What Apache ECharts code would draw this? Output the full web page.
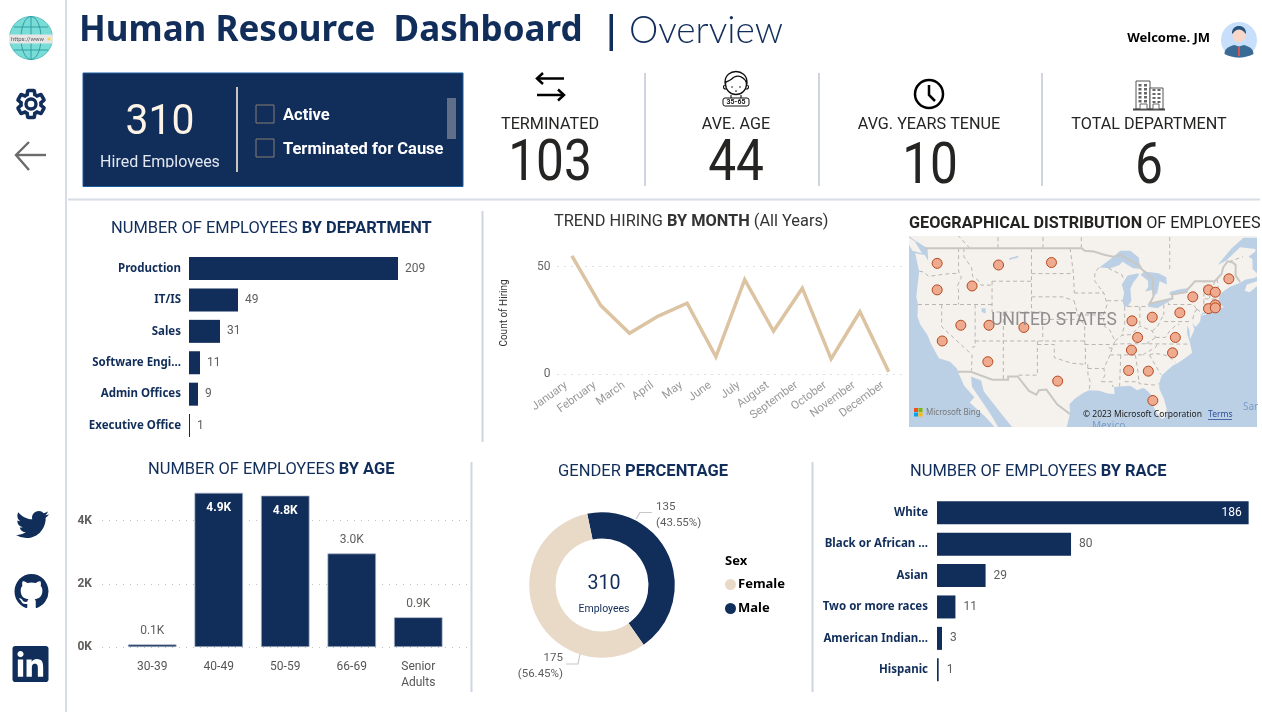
<!DOCTYPE html>
<html><head><meta charset="utf-8"><title>Human Resource Dashboard</title>
<style>html,body{margin:0;padding:0;background:#fff}#c{width:1262px;height:712px}</style>
<script src="https://cdn.jsdelivr.net/npm/echarts@6/dist/echarts.min.js"></script></head><body><div id="c"></div>
<script>
// ---------- data ----------
const deptNames=['Production','IT/IS','Sales','Software Engi...','Admin Offices','Executive Office'];
const deptValues=[209,49,31,11,9,1];
const months=['January','February','March','April','May','June','July','August','September','October','November','December'];
const hiring=[55,32,19,27,33,8,44,20,40,7,29,1];
const ageNames=['30-39','40-49','50-59','66-69','Senior\nAdults'];
const ageValues=[80,4880,4790,2960,940];
const genderNames=['Male','Female'];
const genderValues=[135,175];
const genderPct=['43.55%','56.45%'];
const raceNames=['White','Black or African ...','Asian','Two or more races','American Indian...','Hispanic'];
const raceValues=[186,80,29,11,3,1];
const kpiLabels=['TERMINATED','AVE. AGE','AVG. YEARS TENUE','TOTAL DEPARTMENT'];
const kpiValues=[103,44,10,6];
const totalHired=310;
const statusOptions=['Active','Terminated for Cause'];
const stateLocations=[[-120.8,47.2],[-109.9,47.0],[-100.5,47.3],[-120.8,43.9],[-114.6,44.4],[-116.6,39.2],[-111.6,39.2],[-105.4,38.9],[-119.9,37.0],[-111.8,34.0],[-99.4,31.1],[-86.2,39.8],[-82.6,40.3],[-77.7,40.9],[-75.4,43.0],[-72.6,43.9],[-71.4,43.6],[-69.0,45.3],[-71.4,41.95],[-72.6,41.45],[-71.4,41.55],[-85.2,37.5],[-78.5,37.5],[-86.3,35.7],[-79.0,35.3],[-86.8,32.7],[-83.3,32.6],[-82.5,28.1]];

// ---------- simplified base map outlines (lng, lat) ----------
const landOutline=[[-125.8,50.4],[-64,50.4],[-64,50.2],[-66.4,50.2],[-68.5,49],[-71,47],[-69.5,47.5],[-67,49.1],[-64.3,48.9],[-64.3,48.6],[-65.5,48],[-64.8,47.7],[-64.8,46.5],[-64,46],[-64,45.6],[-64.5,45.4],[-66,45.2],[-67,44.8],[-68.8,44.3],[-70.2,43.6],[-70.7,43],[-70.8,42.6],[-71,42.3],[-70.6,41.9],[-70,41.8],[-70,41.6],[-71.2,41.5],[-72.9,41.25],[-74,40.7],[-74,40.3],[-74.1,39.7],[-74.9,38.95],[-75.5,39.5],[-75.1,38.6],[-75.9,37.2],[-76,38.5],[-76.4,39.2],[-76.4,38],[-76,37],[-75.5,35.3],[-76.5,34.7],[-77.9,33.9],[-79,33.4],[-80.9,32],[-81.4,30.7],[-81.3,29.8],[-80.5,28.3],[-80.05,26.8],[-80.2,25.5],[-80.9,25.15],[-81.8,26.1],[-82.7,27.7],[-82.8,29],[-83.8,29.9],[-84.3,30.05],[-85.3,29.7],[-86.5,30.4],[-88,30.3],[-89.4,30.2],[-89.3,29.1],[-90.5,29.2],[-92,29.6],[-93.8,29.7],[-94.8,29.3],[-96.3,28.4],[-97.3,27.5],[-97.2,26],[-97.8,23.87],[-107.5,23.87],[-109.4,26],[-112.5,29.5],[-113,31.2],[-114.8,31.8],[-114.6,30.2],[-112.8,27.9],[-111,25.5],[-110,23.87],[-110.6,23.87],[-112.2,25.5],[-115,27.8],[-114.2,28.6],[-116,30.4],[-117.1,32.5],[-117.3,33],[-118.5,34],[-120.5,34.5],[-121.9,36.6],[-122.5,37.8],[-123.8,39.3],[-124.3,40.4],[-124.2,42],[-124.5,43],[-124,46.2],[-124.7,48.4],[-123,48.2],[-122.4,47.5],[-122.5,49],[-123.3,49.3],[-125,50],[-125.8,50.4]];
const extraLand=[[[-64,45],[-65.8,44.6],[-66.2,43.8],[-65.3,43.6],[-64,44.4],[-64,45]],[[-123.5,48.4],[-125.2,48.7],[-125.8,49.4],[-125.8,50.2],[-124.8,49.8],[-123.5,48.4]],[[-74,40.6],[-72,41.1],[-72.5,40.8],[-74,40.5],[-74,40.6]]];
const lakes=[[[-92,46.7],[-90,46.6],[-88.4,47],[-87.9,47.4],[-86,46.6],[-84.7,46.5],[-85,47.9],[-86.5,48.7],[-88.3,48.7],[-89.5,48],[-92,46.7]],
[[-87.6,41.7],[-87,41.7],[-86.3,42.5],[-86.5,44],[-86,44.8],[-85,45.7],[-85,46],[-87,45.7],[-88,44.6],[-87.6,43.5],[-87.9,42.5],[-87.6,41.7]],
[[-84.7,45.8],[-83.4,45.1],[-83.3,44.3],[-83.9,43.7],[-82.6,43.9],[-82.4,43],[-81.7,43.5],[-81.3,45],[-80,44.6],[-80.1,45.5],[-81.5,46],[-84,46.2],[-84.7,45.8]],
[[-83.4,41.7],[-81.7,41.5],[-79,42.7],[-79,42.9],[-80.5,42.6],[-82.5,42.1],[-83.1,42.1],[-83.4,41.7]],
[[-79.7,43.3],[-79,43.3],[-76.3,43.5],[-76.3,44.1],[-77.5,44],[-79.3,43.7],[-79.7,43.3]],
[[-112.9,41.5],[-112.2,41.5],[-112.2,40.8],[-112.9,41],[-112.9,41.5]],
[[-108,47.8],[-106.4,48.1],[-106.4,47.9],[-108,47.6],[-108,47.8]]];
const nationalBorders=[[[-123,49],[-95.15,49],[-94.6,48.7],[-93,48.6],[-91,48.2],[-89.5,48],[-88.3,48.2],[-84.8,46.9],[-84.5,46.5],[-83.6,46],[-82.5,45.3],[-82.4,43],[-83.1,42.1],[-79,42.8],[-79.1,43.3],[-76.8,43.6],[-75,45],[-71.5,45],[-70.3,45.9],[-70,46.7],[-69.2,47.45],[-68.3,47.3],[-67.8,47],[-67.8,45.7],[-67,44.9]],
[[-117.1,32.5],[-114.8,32.5],[-111,31.3],[-108.2,31.3],[-108.2,31.8],[-106.5,31.8],[-104.5,29.6],[-103.2,29],[-102.7,29.7],[-101.4,29.8],[-99.5,27.5],[-97.2,25.95]]];
const stateBorders=[[[-124,46.25],[-123.2,46.15],[-122.3,45.6],[-119.3,45.9],[-116.9,46]],[[-117,49],[-117,46.4],[-116.9,46],[-116.5,45.5],[-117.2,44.4],[-117,43.8],[-117,42]],[[-124.2,42],[-111.05,42]],[[-120,42],[-120,39],[-114.6,35],[-114.7,32.7]],[[-114.05,42],[-114.05,36.2],[-114.6,36.1]],[[-109.05,41],[-109.05,31.3]],[[-114.05,37],[-94.6,37]],[[-111.05,45],[-111.05,41],[-102.05,41]],[[-111.05,45],[-104.05,45]],[[-116.05,49],[-116.05,48],[-114.7,46.7],[-114.5,45.6],[-113.5,45.1],[-113,44.5],[-111.05,44.5]],[[-104.05,49],[-104.05,41]],[[-104.05,45.95],[-96.6,45.95]],[[-104.05,43],[-98.5,43],[-96.5,42.5]],[[-102.05,40],[-95.3,40]],[[-102.05,41],[-102.05,37]],[[-103,37],[-103,32],[-106.6,32]],[[-103,36.5],[-100,36.5],[-100,34.6],[-97,33.8],[-94.5,33.6]],[[-94.05,33.6],[-94.05,33],[-94,31.9],[-93.6,31],[-93.8,29.7]],[[-94.6,37],[-94.45,35.4],[-94.5,33.6]],[[-94.05,33],[-91.2,33]],[[-97.2,49],[-96.6,46],[-96.45,43.5]],[[-96.45,43.5],[-91.2,43.5]],[[-95.8,40.6],[-91.7,40.6],[-91.4,40.4]],[[-96.5,42.5],[-95.8,40.6],[-95.3,40],[-94.6,39.1],[-94.6,37]],[[-94.6,36.5],[-90.2,36.5],[-90.3,36],[-89.7,36]],[[-92.8,46],[-92.8,45],[-91.2,43.5],[-90.6,42],[-91.4,40.4],[-91,39],[-90.2,38.6],[-89.2,37],[-89.5,36.5],[-90.1,35],[-91.2,33],[-91,32],[-91.6,31]],[[-91.6,31],[-89.7,31],[-89.6,30.2]],[[-88.2,35],[-88.4,30.3]],[[-90.1,35],[-84.3,35]],[[-85.6,35],[-85.1,32.3],[-85,31]],[[-87.5,31],[-85,31],[-84.9,30.7],[-82.2,30.5],[-81.5,30.7]],[[-83.1,35],[-81.1,32.1]],[[-83.1,35],[-82.3,35.2],[-81,35.1],[-79.7,34.8],[-78.5,33.9]],[[-84.3,35],[-82,36.1],[-81.7,36.6]],[[-89.5,36.5],[-88,36.6],[-83.7,36.6],[-75.9,36.55]],[[-83.7,36.6],[-82,37.5]],[[-82,37.5],[-80.3,37.5],[-79.5,38.4],[-78.4,39.2],[-77.8,39.3]],[[-89.2,37],[-88,37.8],[-86.5,37.9],[-85.5,38.5],[-84.8,39.1],[-82.6,38.4],[-82,37.5]],[[-82.6,38.4],[-81.7,39],[-80.6,40.6]],[[-80.55,42],[-80.55,40.6]],[[-80.5,39.7],[-75.8,39.7]],[[-79.76,42.25],[-79.76,42],[-75.35,42],[-74.7,41.4]],[[-74.7,41.4],[-75.1,40.9],[-75.5,39.8]],[[-74.7,41.4],[-74,41]],[[-73.5,41.2],[-73.35,45]],[[-73.5,42.05],[-71.8,42.02],[-71.4,42]],[[-73.3,42.75],[-71.3,42.7],[-70.8,42.85]],[[-71.5,45],[-72.5,42.75]],[[-71.1,45.3],[-70.7,43.1]],[[-71.8,42],[-71.85,41.35]],[[-87.5,41.7],[-87.5,39.3],[-88,37.8]],[[-84.8,41.7],[-84.8,39.1]],[[-87,41.75],[-83.4,41.73]],[[-90.6,42.5],[-87.8,42.5]],[[-90.4,46.6],[-88,45.8],[-87.6,45.1]],[[-92.1,46.7],[-92.8,46]],[[-110,49],[-110,50.4]],[[-102,49],[-102,50.4]],[[-115,49],[-117,50.4]],[[-95.2,49],[-95.2,50.4]],[[-79.5,46.5],[-79.5,50.4]],[[-69,47.4],[-66.5,48]]];
const viewBounds=[-125.8,-64,23.87,50.4];

// ---------- helpers ----------
const NAVY='#112d5a',DIN='Roboto',SEG='"Noto Sans"';
const poly=(n,coords)=>({type:'Feature',properties:{name:n},geometry:{type:'Polygon',coordinates:[coords]}});
const [w,e,s,n]=viewBounds;
echarts.registerMap('na',{type:'FeatureCollection',features:[poly('ocean',[[w,n],[e,n],[e,s],[w,s],[w,n]])]});
const rad=Math.PI/180;
const merc=lat=>Math.log(Math.tan(Math.PI/4+lat*rad/2))/rad;
const imerc=m=>(2*Math.atan(Math.exp(m*rad))-Math.PI/2)/rad;
const gfx=[],icons=[];
function T(x,y,text,o={}){gfx.push({type:'text',z:o.z||100,x,y,scaleX:o.sx||1,silent:true,style:{text:String(text),fill:o.color||'#252423',textAlign:o.align||'center',textVerticalAlign:'middle',font:`${o.weight||'normal'} ${o.size||14}px ${o.family||DIN}`}})}
function R(x,y,wd,h,fill,o={}){gfx.push({type:'rect',z:o.z||90,silent:true,shape:{x,y,width:wd,height:h,r:o.r||0},style:{fill,stroke:o.stroke,lineWidth:o.lw||1}})}
function L(pts,color,lw=2){gfx.push({type:'polyline',z:97,silent:true,shape:{points:pts},style:{stroke:color,lineWidth:lw,fill:null}})}
function C(cx,cy,r,fill,stroke,lw=1,z=95){gfx.push({type:'circle',z,silent:true,shape:{cx,cy,r},style:{fill:fill||'none',stroke,lineWidth:lw}})}
function P(d,x,y,wd,h,fill,o={}){icons.push({d,x,y,wd,h,fill,stroke:o.stroke,lw:o.lw||0})}

// frame lines
R(65,0,2,712,'#d8dcea');R(68,198.5,1192,2,'#d8dce6');
[644,818,1041].forEach(x=>R(x,73,2,113,'#cfd4e0'));
R(481.5,211,2,231,'#cfd4e0');R(470.5,462,2,230,'#cfd4e0');R(811.5,462,2,230,'#cfd4e0');
// header
T(79,31,'Human Resource  Dashboard',{align:'left',size:35,weight:'bold',color:NAVY,family:SEG});
R(609.5,14,3.5,37,NAVY);
T(629,31,'Overview',{align:'left',size:37,color:NAVY,family:'Lato',weight:300});
T(1210,38,'Welcome. JM',{align:'right',size:13,weight:'bold',color:'#000',family:SEG});
// avatar
C(1239,40,18,'#c7dffb');
P('M0 18C0 10 6 8 12 6L18 8L24 6C30 8 36 10 36 18C26 24 10 24 0 18Z',1224.5,45,29,12.5,'#3a6b94');
C(1239,36,6.5,'#f8d6c8','#f8d6c8',0,97);
P('M-7 -3C-8 -12 8 -12 7 -3C4 -6 -3 -6 -7 -3Z',1232,26,14,8,'#27547c');
L([[1239,47],[1239,56]],'#d9534f',2);
// side icons: globe
C(31,38,21.5,'#7adcd6','#56c3c2',1);
gfx.push({type:'ellipse',z:95,silent:true,shape:{cx:31,cy:38,rx:10,ry:21.5},style:{fill:'none',stroke:'#2f9fa4',lineWidth:1}});
L([[31,17],[31,59]],'#2f9fa4',1);L([[14,27],[48,27]],'#2f9fa4',1);L([[14,50],[48,50]],'#2f9fa4',1);
R(9,34.5,44,9,'#e6e6e6',{z:98});T(11,39,'https://www',{align:'left',size:6,color:'#555'});C(49,39,1.6,'#f5d547',null,0,99);
const gear='M19.14 12.94c.04-.3.06-.61.06-.94 0-.32-.02-.64-.07-.94l2.03-1.58c.18-.14.23-.41.12-.61l-1.92-3.32c-.12-.22-.37-.29-.59-.22l-2.39.96c-.5-.38-1.03-.7-1.62-.94l-.36-2.54c-.04-.24-.24-.41-.48-.41h-3.84c-.24 0-.43.17-.47.41l-.36 2.54c-.59.24-1.13.57-1.62.94l-2.39-.96c-.22-.08-.47 0-.59.22L2.74 8.87c-.12.21-.08.47.12.61l2.03 1.58c-.05.3-.09.63-.09.94s.02.64.07.94l-2.03 1.58c-.18.14-.23.41-.12.61l1.92 3.32c.12.22.37.29.59.22l2.39-.96c.5.38 1.03.7 1.62.94l.36 2.54c.05.24.24.41.48.41h3.84c.24 0 .44-.17.47-.41l.36-2.54c.59-.24 1.13-.56 1.62-.94l2.39.96c.22.08.47 0 .59-.22l1.92-3.32c.12-.22.07-.47-.12-.61l-2.01-1.58z';
P(gear,18,90.5,26,27,'#fff',{stroke:NAVY,lw:3.6});C(31,104,5,'#fff',NAVY,3.4,97);
L([[46,155],[17,155]],'#6b6b6b',2.4);L([[29,142],[16,155],[29,170]],'#6b6b6b',2.4);
P('M23.953 4.57a10 10 0 0 1-2.825.775 4.958 4.958 0 0 0 2.163-2.723c-.951.555-2.005.959-3.127 1.184a4.92 4.92 0 0 0-8.384 4.482C7.69 8.095 4.067 6.13 1.64 3.162a4.822 4.822 0 0 0-.666 2.475c0 1.71.87 3.213 2.188 4.096a4.904 4.904 0 0 1-2.228-.616v.06a4.923 4.923 0 0 0 3.946 4.827 4.996 4.996 0 0 1-2.212.085 4.936 4.936 0 0 0 4.604 3.417 9.867 9.867 0 0 1-6.102 2.105c-.39 0-.779-.023-1.17-.067a13.995 13.995 0 0 0 7.557 2.209c9.053 0 13.998-7.496 13.998-13.985 0-.21 0-.42-.015-.63A9.935 9.935 0 0 0 24 4.59z',16,511,33,27,NAVY);
P('M8 0C3.58 0 0 3.58 0 8c0 3.54 2.29 6.53 5.47 7.59.4.07.55-.17.55-.38 0-.19-.01-.82-.01-1.49-2.01.37-2.53-.49-2.69-.94-.09-.23-.48-.94-.82-1.13-.28-.15-.68-.52-.01-.53.63-.01 1.08.58 1.23.82.72 1.21 1.87.87 2.33.66.07-.52.28-.87.51-1.07-1.78-.2-3.64-.89-3.64-3.95 0-.87.31-1.59.82-2.15-.08-.2-.36-1.02.08-2.12 0 0 .67-.21 2.2.82.64-.18 1.32-.27 2-.27.68 0 1.36.09 2 .27 1.53-1.04 2.2-.82 2.2-.82.44 1.1.16 1.92.08 2.12.51.56.82 1.27.82 2.15 0 3.07-1.87 3.75-3.65 3.95.29.25.54.73.54 1.48 0 1.07-.01 1.93-.01 2.2 0 .21.15.46.55.38A8.013 8.013 0 0 0 16 8c0-4.42-3.58-8-8-8z',14.5,574,34,34,NAVY);
P('M20.447 20.452h-3.554v-5.569c0-1.328-.027-3.037-1.852-3.037-1.853 0-2.136 1.445-2.136 2.939v5.667H9.351V9h3.414v1.561h.046c.477-.9 1.637-1.85 3.37-1.85 3.601 0 4.267 2.37 4.267 5.455v6.286zM5.337 7.433c-1.144 0-2.063-.926-2.063-2.065 0-1.138.92-2.063 2.063-2.063 1.14 0 2.064.925 2.064 2.063 0 1.139-.925 2.065-2.064 2.065zm1.782 13.019H3.555V9h3.564v11.452zM22.225 0H1.771C.792 0 0 .774 0 1.729v20.542C0 23.227.792 24 1.771 24h20.451C23.2 24 24 23.227 24 22.271V1.729C24 .774 23.2 0 22.222 0h.003z',12.5,646,36,36,NAVY);
// hired box
R(83,73,380,113.5,NAVY,{stroke:'#1b5c9e'});
R(236,87,2,85,'#c9c5bd',{z:96});
T(160,123,totalHired,{size:43,color:'#fdf3e6',sx:.95});
T(160,163,'Hired Employees',{size:16,color:'#e3e7ef'});
R(84,167.5,152,18.5,NAVY,{z:101});
statusOptions.forEach((t,i)=>{const y=114+i*34;R(256,y-9,18,18,'none',{stroke:'#867e70',z:96});T(283,y+1.5,t,{align:'left',size:16,weight:'bold',color:'#fff',sx:1.03})});
R(447,98,9,41,'#5f6f89',{z:96});
// KPI
[[550,166],[736,166],[930,169],[1149,169]].forEach((p,i)=>{T(i==2?929:p[0],125,kpiLabels[i],{size:16.5,sx:.98});T(p[0],p[1],kpiValues[i],{size:57,sx:.87,color:'#252423'})});
// arrows icon
L([[537,78.5],[564,78.5]],'#000',2.5);L([[543,73],[537,78.5],[543,84]],'#000',2.5);
L([[537,95],[564,95]],'#000',2.5);L([[558,89.5],[564,95],[558,100.5]],'#000',2.5);
// age icon
C(725.5,87,2,'#fff','#111',1.1);C(746.5,87,2,'#fff','#111',1.1);
C(736,84,10.5,'#fff','#111',1.3);
P('M0 12C0 2 22 2 22 12C16 6 10 7 6 10C4 11 2 11 0 12Z',725,71.5,22,11,'#fff',{stroke:'#111',lw:1.3});
C(732,87,.8,'#111','#111',0,97);C(740,87,.8,'#111','#111',0,97);L([[735,91],[737,91]],'#111',1);
L([[731,95],[731,98]],'#111',1.1);L([[741,95],[741,98]],'#111',1.1);
R(723,98,26,8,'#fff',{stroke:'#111',r:2,z:98});T(736,102.5,'35-65',{size:7,weight:'bold',color:'#111'});
// clock icon
C(929,94,14,'#fff','#000',2.5);L([[929,85],[929,95],[935,101]],'#000',2.5);
// building icon
R(1136,81,14,28,'#fff',{stroke:'#555',z:96});R(1150,88,13,21,'#fff',{stroke:'#555',z:96});L([[1133,109.5],[1165,109.5]],'#444',2);
[84,88,92,96,100].forEach(y=>{R(1138.5,y,3,2.5,'#666',{z:97});R(1144,y,3,2.5,'#666',{z:97});if(y>84){R(1152.5,y+1,3,2,'#666',{z:97});R(1157.5,y+1,3,2,'#666',{z:97})}});
R(1140,104,7,5,'#fff',{stroke:'#666',z:97});R(1153,104,6,5,'#fff',{stroke:'#666',z:97});
// map annotations
T(1054,320,'UNITED STATES',{size:18,color:'#8e8e8e',sx:.97});
R(914,408,4,4,'#f25022',{z:96});R(918.5,408,4,4,'#7fba00',{z:96});R(914,412.5,4,4,'#00a4ef',{z:96});R(918.5,412.5,4,4,'#ffb900',{z:96});
T(926,412.5,'Microsoft Bing',{align:'left',size:8,color:'#777',family:SEG});
T(1083,414.5,'© 2023 Microsoft Corporation',{align:'left',size:8.5,color:'#222',family:SEG});
T(1208,414.5,'Terms',{align:'left',size:8.5,color:'#2b4f9e',family:SEG});L([[1208,419.5],[1232,419.5]],'#2b4f9e',.8);
T(1243,407,'Sar',{align:'left',size:10,color:'#7a9cc8',family:SEG});
T(1092,426,'Mexico',{align:'left',size:10,color:'#7a9cc8',family:SEG});
R(905,427,357,8,'#fff',{z:101});
// donut annotations
T(604,584,totalHired,{size:20,color:NAVY,sx:.98});
T(604,609,'Employees',{size:10.5,color:NAVY});
T(656,507,genderValues[0],{align:'left',size:11.5,color:'#605e5c'});T(656,523.5,`(${genderPct[0]})`,{align:'left',size:11.5,color:'#605e5c'});
T(563,658,genderValues[1],{align:'right',size:11.5,color:'#605e5c'});T(563,674.5,`(${genderPct[1]})`,{align:'right',size:11.5,color:'#605e5c'});
L([[636,519],[640,512.5],[652,512.5]],'#c8c8c8',1.2);L([[580,654],[578,664],[566,664]],'#c8c8c8',1.2);
T(725,561,'Sex',{align:'left',size:13,weight:'bold',color:'#000',family:SEG});

const ttl=(left,top,a,b,c,size,color)=>({left,top:top+3,padding:0,text:`{a|${a}}{b|${b}}`+(c?`{a|${c}}`:''),textStyle:{fontWeight:'normal',rich:{a:{fontFamily:DIN,fontSize:size,color,fontWeight:'normal'},b:{fontFamily:DIN,fontSize:size,fontWeight:'bold',color}}}});
const hidden={show:false};
const lab=(c,sz=11)=>({color:c,fontFamily:DIN,fontSize:sz});
const land=[landOutline,...extraLand];
const option={animation:false,backgroundColor:'#fff',
 title:[
  ttl(111,218,'NUMBER OF EMPLOYEES ','BY DEPARTMENT','',16.45,NAVY),
  ttl(554,211,'TREND HIRING ','BY MONTH',' (All Years)',16.35,'#333'),
  ttl(909,213,'','GEOGRAPHICAL DISTRIBUTION',' OF EMPLOYEES',16.2,'#252423'),
  ttl(148,459,'NUMBER OF EMPLOYEES ','BY AGE','',16.45,NAVY),
  ttl(558,460,'GENDER ','PERCENTAGE','',16.55,NAVY),
  ttl(910,461,'NUMBER OF EMPLOYEES ','BY RACE','',16.45,NAVY)
 ],
 graphic:{elements:gfx},
 legend:{orient:'vertical',left:720,top:573,itemGap:11,itemWidth:11,itemHeight:11,icon:'circle',data:['Female','Male'],selectedMode:false,textStyle:{fontFamily:SEG,fontSize:13,fontWeight:'bold',color:'#000',padding:[0,0,0,-3]}},
 geo:{map:'na',silent:true,left:909,top:236,width:348,height:191,roam:false,
  projection:{project:p=>[p[0],-merc(p[1])],unproject:p=>[p[0],imerc(-p[1])]},
  itemStyle:{areaColor:'#bcd0e5',borderWidth:0},label:{show:false},emphasis:{disabled:true},select:{disabled:true}},
 grid:[
  {left:189,top:252.8,width:250,height:188.5},
  {left:557.5,top:252,width:345.6,height:122},
  {left:119,top:489,width:332.5,height:158},
  {left:937,top:497,width:320,height:188.5},
  {left:102,top:489,width:366,height:158}
 ],
 xAxis:[
  {gridIndex:0,type:'value',min:0,max:250,show:false},
  {gridIndex:1,type:'category',data:months,axisLine:hidden,axisTick:hidden,axisLabel:{...lab('#999',11.5),rotate:36,interval:0,margin:6,padding:[0,7,0,0]}},
  {gridIndex:2,type:'category',data:ageNames,axisLine:hidden,axisTick:hidden,axisLabel:{...lab('#555',12),interval:0,margin:12,lineHeight:16}},
  {gridIndex:3,type:'value',min:0,max:191,show:false},
  {gridIndex:4,type:'value',min:0,max:1,show:false}
 ],
 yAxis:[
  {gridIndex:0,type:'category',inverse:true,data:deptNames,axisLine:hidden,axisTick:hidden,axisLabel:{fontFamily:SEG,fontSize:11.5,fontWeight:'bold',color:NAVY,margin:8}},
  {gridIndex:1,type:'value',min:0,max:56.85,interval:50,name:'Count of Hiring',nameLocation:'middle',nameGap:48,nameTextStyle:{...lab('#333',10)},axisLine:hidden,axisTick:hidden,axisLabel:{...lab('#666',12),margin:7,showMaxLabel:false},splitLine:{showMaxLine:false,lineStyle:{type:[1,6],color:'#c0c0c0'}}},
  {gridIndex:2,type:'value',min:0,max:5000,interval:2000,show:false},
  {gridIndex:3,type:'category',inverse:true,data:raceNames,axisLine:hidden,axisTick:hidden,axisLabel:{fontFamily:SEG,fontSize:11.5,fontWeight:'bold',color:NAVY,margin:9}},
  {gridIndex:4,type:'value',min:0,max:5000,interval:2000,axisLine:hidden,axisTick:hidden,axisLabel:{fontFamily:DIN,fontSize:12,fontWeight:'bold',color:'#605e5c',margin:10,formatter:v=>v/1000+'K',showMaxLabel:false},splitLine:{showMaxLine:false,lineStyle:{type:[1,6],color:'#c0c0c0'}}}
 ],
 series:[
  {type:'custom',coordinateSystem:'none',silent:true,z:96,data:icons.map((_,i)=>[i]),renderItem:(p,api)=>{const k=icons[api.value(0)];return {type:'path',shape:{pathData:k.d,layout:'cover',x:k.x,y:k.y,width:k.wd,height:k.h},style:{fill:k.fill,stroke:k.stroke,lineWidth:k.lw}}}},
  {type:'custom',coordinateSystem:'geo',silent:true,z:1,data:land.map((_,i)=>[i]),renderItem:(p,api)=>({type:'polygon',shape:{points:land[api.value(0)].map(c=>api.coord(c))},style:{fill:'#f5f2ee'}})},
  {type:'custom',coordinateSystem:'geo',silent:true,z:1.5,data:lakes.map((_,i)=>[i]),renderItem:(p,api)=>({type:'polygon',shape:{points:lakes[api.value(0)].map(c=>api.coord(c))},style:{fill:'#bcd0e5'}})},
  {type:'lines',coordinateSystem:'geo',polyline:true,silent:true,z:2,data:stateBorders.map(c=>({coords:c})),lineStyle:{color:'#b8b6b2',width:1,type:[4,3],opacity:1}},
  {type:'lines',coordinateSystem:'geo',polyline:true,silent:true,z:3,data:nationalBorders.map(c=>({coords:c})),lineStyle:{color:'#c9c7c4',width:2,opacity:1}},
  {type:'scatter',coordinateSystem:'geo',silent:true,z:5,symbol:'circle',symbolSize:10,data:stateLocations,itemStyle:{color:'#efab90',borderColor:'#b5481f',borderWidth:1,opacity:1}},
  {type:'bar',xAxisIndex:0,yAxisIndex:0,barWidth:23,data:deptValues,itemStyle:{color:NAVY},label:{show:true,position:'right',distance:7,...lab('#605e5c',12)}},
  {type:'line',xAxisIndex:1,yAxisIndex:1,data:hiring,showSymbol:false,symbol:'none',lineStyle:{color:'#dcc4a3',width:3.5,join:'miter'}},
  {type:'bar',xAxisIndex:2,yAxisIndex:2,barWidth:48.5,data:ageValues.map(v=>({value:v,label:v>=4000?{position:'insideTop',color:'#fff',fontWeight:'bold',distance:9}:{}})),itemStyle:{color:NAVY,borderColor:'#a7b3c6',borderWidth:.7},
    label:{show:true,position:'top',distance:7,...lab('#605e5c',12),formatter:p=>(p.value/1000).toFixed(1)+'K'}},
  {type:'bar',xAxisIndex:3,yAxisIndex:3,barWidth:23,data:raceValues.map((v,i)=>({value:v,label:i==0?{position:'insideRight',color:'#fff',distance:7}:{}})),itemStyle:{color:NAVY},label:{show:true,position:'right',distance:8,...lab('#605e5c',12)}},
  {type:'pie',center:[602,585],radius:[46.5,72.8],startAngle:101.7,clockwise:true,silent:true,label:{show:false},labelLine:{show:false},
    data:genderNames.map((g,i)=>({name:g,value:genderValues[i],itemStyle:{color:g==='Male'?NAVY:'#e9dac8'}}))}
 ]};
const chart=echarts.init(document.getElementById('c'),null,{renderer:'canvas'});
chart.setOption(option);
</script></body></html>
